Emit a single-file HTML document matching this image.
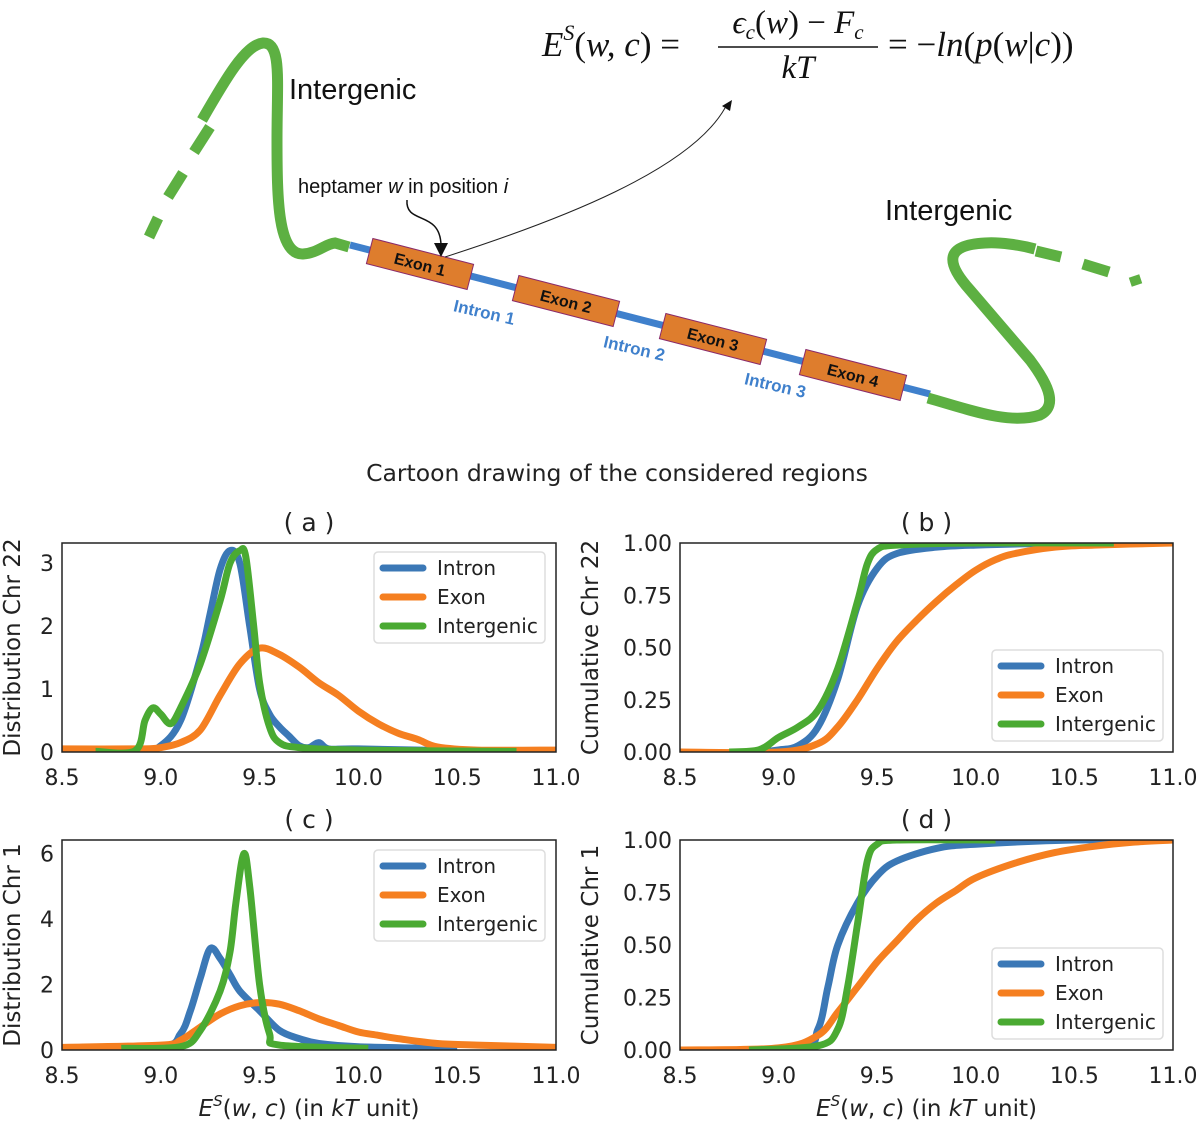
<!DOCTYPE html>
<html><head><meta charset="utf-8"><style>
html,body{margin:0;padding:0;background:#fff}
svg{display:block}
.t{font-family:"DejaVu Sans",sans-serif;fill:#222}
.r{font-family:"Liberation Sans",sans-serif}
.m{font-family:"Liberation Serif",serif;font-style:italic;fill:#111}
</style></head><body>
<svg id="root" width="1200" height="1122" viewBox="0 0 1200 1122" xmlns="http://www.w3.org/2000/svg">
<g>
  <line x1="350" y1="245" x2="930" y2="394" stroke="#3f80cc" stroke-width="7"/>
  <path d="M202,120 C225,80 245,45 263,43 C282,42 277,80 277,140 C277,200 278,255 303,254 C318,253 325,244 335,243 L349,247" fill="none" stroke="#5db042" stroke-width="11"/>
  <g stroke="#5db042" stroke-width="11">
    <line x1="210" y1="127" x2="194" y2="152"/><line x1="183" y1="173" x2="168" y2="197"/><line x1="158" y1="218" x2="149" y2="237"/>
  </g>
  <path d="M928,398 C970,410 1010,425 1040,415 C1060,405 1045,380 1030,360 L970,290 C945,262 945,245 985,243 C1000,242 1020,245 1035,249" fill="none" stroke="#5db042" stroke-width="11"/>
  <g stroke="#5db042" stroke-width="11">
    <line x1="1036" y1="251" x2="1061" y2="257"/><line x1="1083" y1="264" x2="1109" y2="272"/><line x1="1134" y1="276" x2="1137" y2="285"/>
  </g>
  <g transform="translate(420,264) rotate(14.4)"><rect x="-52" y="-13" width="104" height="26" fill="#de7d2d" stroke="#8a2a6a" stroke-width="1"/><text class="r" x="0" y="6" text-anchor="middle" font-size="16" font-weight="bold" fill="#111">Exon 1</text></g>
  <g transform="translate(566,301) rotate(14.4)"><rect x="-52" y="-13" width="104" height="26" fill="#de7d2d" stroke="#8a2a6a" stroke-width="1"/><text class="r" x="0" y="6" text-anchor="middle" font-size="16" font-weight="bold" fill="#111">Exon 2</text></g>
  <g transform="translate(713,339) rotate(14.4)"><rect x="-52" y="-13" width="104" height="26" fill="#de7d2d" stroke="#8a2a6a" stroke-width="1"/><text class="r" x="0" y="6" text-anchor="middle" font-size="16" font-weight="bold" fill="#111">Exon 3</text></g>
  <g transform="translate(853,375) rotate(14.4)"><rect x="-52" y="-13" width="104" height="26" fill="#de7d2d" stroke="#8a2a6a" stroke-width="1"/><text class="r" x="0" y="6" text-anchor="middle" font-size="16" font-weight="bold" fill="#111">Exon 4</text></g>
  <text class="r" transform="translate(483,318) rotate(13)" text-anchor="middle" font-size="17" font-weight="bold" fill="#3f80cc">Intron 1</text>
  <text class="r" transform="translate(633,354) rotate(13)" text-anchor="middle" font-size="17" font-weight="bold" fill="#3f80cc">Intron 2</text>
  <text class="r" transform="translate(774,391) rotate(13)" text-anchor="middle" font-size="17" font-weight="bold" fill="#3f80cc">Intron 3</text>
  <text class="r" x="289" y="99" font-size="29" fill="#111">Intergenic</text>
  <text class="r" x="885" y="220" font-size="29" fill="#111">Intergenic</text>
  <text class="r" x="298" y="193" font-size="20" fill="#111">heptamer <tspan font-style="italic">w</tspan> in position <tspan font-style="italic">i</tspan></text>
  <path d="M407,200 C405,225 440,210 441,245" fill="none" stroke="#111" stroke-width="1.5"/>
  <polygon points="434,243 448,243 441,257" fill="#111"/>
  <path d="M445,257 C560,220 690,170 725,108" fill="none" stroke="#222" stroke-width="1"/>
  <polygon points="732,100 722,106 730,111" fill="#111"/>
  <g>
    <text class="m" x="542" y="56" font-size="35">E<tspan font-size="22" dy="-16">S</tspan><tspan dy="16" font-style="normal">(</tspan>w, c<tspan font-style="normal">) =</tspan></text>
    <text class="m" x="798" y="33" font-size="33" text-anchor="middle">ϵ<tspan font-size="21" dy="6">c</tspan><tspan dy="-6" font-style="normal">(</tspan>w<tspan font-style="normal">) − </tspan>F<tspan font-size="21" dy="6">c</tspan></text>
    <line x1="718" y1="47" x2="878" y2="47" stroke="#111" stroke-width="1.5"/>
    <text class="m" x="798" y="78" font-size="33" text-anchor="middle">kT</text>
    <text class="m" x="888" y="56" font-size="35"><tspan font-style="normal">= −</tspan>ln<tspan font-style="normal">(</tspan>p<tspan font-style="normal">(</tspan>w<tspan font-style="normal">|</tspan>c<tspan font-style="normal">))</tspan></text>
  </g>
  <text class="t" x="617" y="481" text-anchor="middle" font-size="23.5">Cartoon drawing of the considered regions</text>
</g>
<g id="charts"></g>
</svg>
<script>
// Panel (a) density chr22
const aIntronX=[8.5,8.9,9.0,9.1,9.2,9.25,9.3,9.35,9.4,9.45,9.5,9.55,9.6,9.65,9.7,9.75,9.8,9.85,10.0,10.5,11.0];
const aIntronY=[0.02,0.02,0.1,0.5,1.5,2.2,2.9,3.2,3.0,2.0,1.0,0.6,0.4,0.25,0.1,0.07,0.15,0.05,0.05,0.02,0.02];
const aExonX=[8.5,8.9,9.0,9.1,9.2,9.3,9.4,9.5,9.6,9.7,9.8,9.9,10.0,10.1,10.2,10.3,10.4,10.6,11.0];
const aExonY=[0.05,0.05,0.07,0.15,0.35,0.9,1.4,1.65,1.55,1.35,1.1,0.9,0.65,0.45,0.3,0.2,0.08,0.03,0.03];
const aInterX=[8.67,8.87,8.92,8.96,9.0,9.05,9.1,9.2,9.3,9.35,9.4,9.43,9.47,9.5,9.55,9.6,9.7,10.0,10.8];
const aInterY=[0.01,0.02,0.5,0.7,0.6,0.45,0.7,1.4,2.4,3.0,3.2,3.1,2.0,1.1,0.4,0.15,0.07,0.03,0.01];
// Panel (b) cumulative chr22
const bIntronX=[8.9,9.0,9.1,9.2,9.3,9.4,9.5,9.6,9.8,10.0,10.5,11.0];
const bIntronY=[0,0.01,0.03,0.12,0.35,0.7,0.88,0.95,0.98,0.99,1,1];
const bExonX=[8.5,9.0,9.2,9.3,9.4,9.5,9.6,9.7,9.8,9.9,10.0,10.1,10.2,10.4,10.6,11.0];
const bExonY=[0,0,0.04,0.12,0.25,0.4,0.53,0.63,0.72,0.8,0.87,0.92,0.95,0.98,0.99,1];
const bInterX=[8.75,8.9,9.0,9.1,9.2,9.3,9.4,9.45,9.5,9.6,10.0,10.7];
const bInterY=[0,0.01,0.07,0.12,0.2,0.4,0.72,0.9,0.97,0.99,1,1];
// Panel (c) density chr1
const cIntronX=[8.5,9.0,9.1,9.15,9.2,9.25,9.3,9.35,9.4,9.5,9.6,9.7,9.8,10.0,10.4,10.5];
const cIntronY=[0.05,0.1,0.5,1.2,2.2,3.1,2.8,2.3,1.8,1.2,0.6,0.35,0.2,0.1,0.05,0.03];
const cExonX=[8.5,9.0,9.1,9.2,9.3,9.4,9.5,9.6,9.7,9.8,9.9,10.0,10.1,10.2,10.4,10.6,11.0];
const cExonY=[0.08,0.15,0.3,0.7,1.1,1.35,1.45,1.4,1.2,0.95,0.75,0.55,0.45,0.35,0.2,0.15,0.08];
const cInterX=[8.8,9.1,9.2,9.3,9.35,9.38,9.42,9.45,9.5,9.55,9.6,10.05];
const cInterY=[0.05,0.1,0.6,1.8,3.0,4.5,6.0,5.0,2.0,0.5,0.15,0.05];
// Panel (d) cumulative chr1
const dIntronX=[8.5,9.1,9.2,9.25,9.3,9.4,9.5,9.6,9.8,10.0,10.5,11.0];
const dIntronY=[0,0.01,0.1,0.3,0.5,0.7,0.83,0.9,0.96,0.98,1,1];
const dExonX=[8.5,9.0,9.2,9.3,9.4,9.5,9.6,9.7,9.8,9.9,10.0,10.2,10.4,10.6,10.8,11.0];
const dExonY=[0,0.01,0.07,0.18,0.3,0.42,0.52,0.62,0.7,0.76,0.82,0.89,0.94,0.97,0.99,1];
const dInterX=[8.85,9.2,9.3,9.35,9.4,9.45,9.5,9.6,10.1];
const dInterY=[0,0.02,0.1,0.3,0.6,0.9,0.98,1,1];

const xTicks=[8.5,9.0,9.5,10.0,10.5,11.0];
const xTickLabels=["8.5","9.0","9.5","10.0","10.5","11.0"];
const densA=[0,1,2,3], densC=[0,2,4,6];
const cumTicks=[0,0.25,0.5,0.75,1];
const cumLabels=["0.00","0.25","0.50","0.75","1.00"];
const seriesNames=["Intron","Exon","Intergenic"];
const COLORS=["#3b78b6","#f57f20","#4aaa32"];
const NS="http://www.w3.org/2000/svg";
const root=document.getElementById('charts');
function mk(tag,attrs,parent){const e=document.createElementNS(NS,tag);for(const k in attrs)e.setAttribute(k,attrs[k]);parent.appendChild(e);return e;}
function smoothPath(pts){let d="M"+pts[0][0]+","+pts[0][1];for(let i=0;i<pts.length-1;i++){const p0=pts[i-1]||pts[i],p1=pts[i],p2=pts[i+1],p3=pts[i+2]||p2;const c1=[p1[0]+(p2[0]-p0[0])/6,p1[1]+(p2[1]-p0[1])/6],c2=[p2[0]-(p3[0]-p1[0])/6,p2[1]-(p3[1]-p1[1])/6];d+=` C${c1[0].toFixed(1)},${c1[1].toFixed(1)} ${c2[0].toFixed(1)},${c2[1].toFixed(1)} ${p2[0].toFixed(1)},${p2[1].toFixed(1)}`;}return d;}
function panel(o){
  const g=mk('g',{},root);
  
  
  const X=v=>o.L+(v-8.5)/(11-8.5)*(o.R-o.L);
  const Y=v=>o.B-(v-o.y0)/(o.y1-o.y0)*(o.B-o.T);
  const clip=mk('clipPath',{id:'clip'+o.id},g);mk('rect',{x:o.L,y:o.T,width:o.R-o.L,height:o.B-o.T},clip);
  const lines=mk('g',{'clip-path':'url(#clip'+o.id+')'},g);
  o.series.forEach((s,i)=>{const p=mk('path',{d:smoothPath(s[0].map((x,j)=>[X(x),Y(s[1][j])])),fill:'none',stroke:COLORS[i],'stroke-width':7,'stroke-linejoin':'round'},lines);
    
    });
  const fr=mk('rect',{x:o.L,y:o.T,width:o.R-o.L,height:o.B-o.T,fill:'none',stroke:'#222','stroke-width':1.5},g);
  
  
  xTicks.forEach((v,i)=>{const t=mk('text',{x:X(v),y:o.B+33,'text-anchor':'middle','font-size':22,class:'t'},g);t.textContent=xTickLabels[i];
    
    });
  o.yt.forEach((v,i)=>{const t=mk('text',{x:o.L-8,y:Y(v)+8,'text-anchor':'end','font-size':22,class:'t'},g);t.textContent=o.yl[i];
    
    });
  const yt=mk('text',{transform:`translate(${o.ytx},${(o.T+o.B)/2}) rotate(-90)`,'text-anchor':'middle','font-size':23,class:'t'},g);yt.textContent=o.ylabel;
  
  
  const tt=mk('text',{x:(o.L+o.R)/2,y:o.T-12,'text-anchor':'middle','font-size':25,class:'t'},g);tt.textContent=o.title;
  
  
  if(o.xlabel){const xl=mk('text',{x:(o.L+o.R)/2,y:o.B+66,'text-anchor':'middle','font-size':23,class:'t'},g);
    xl.innerHTML='<tspan font-style="italic">E</tspan><tspan font-size="15" dy="-10" font-style="italic">S</tspan><tspan dy="10">(</tspan><tspan font-style="italic">w</tspan>, <tspan font-style="italic">c</tspan>) (in <tspan font-style="italic">kT</tspan> unit)';
    
    }
  const lg=mk('g',{},g);
  
  
  mk('rect',{x:o.lx,y:o.ly,width:171,height:91,rx:4,fill:'#fff',stroke:'#ddd','stroke-width':1.5},lg);
  seriesNames.forEach((n,i)=>{const yy=o.ly+16+i*29;
    const ln=mk('line',{x1:o.lx+9,y1:yy,x2:o.lx+49,y2:yy,stroke:COLORS[i],'stroke-width':7,'stroke-linecap':'round'},lg);
    
    
    const t=mk('text',{x:o.lx+63,y:yy+7,'font-size':20,class:'t'},lg);t.textContent=n;
    
    });
}
panel({id:'a',L:62,R:556,T:543,B:752,y0:0,y1:3.32,yt:densA,yl:["0","1","2","3"],ytx:20,ylabel:"Distribution Chr 22",title:"( a )",lx:374,ly:552,
  series:[[aIntronX,aIntronY],[aExonX,aExonY],[aInterX,aInterY]]});
panel({id:'b',L:680,R:1173,T:543,B:752,y0:0,y1:1,yt:cumTicks,yl:cumLabels,ytx:598,ylabel:"Cumulative Chr 22",title:"( b )",lx:992,ly:650,
  series:[[bIntronX,bIntronY],[bExonX,bExonY],[bInterX,bInterY]]});
panel({id:'c',L:62,R:556,T:840,B:1050,y0:0,y1:6.42,yt:densC,yl:["0","2","4","6"],ytx:20,ylabel:"Distribution Chr 1",title:"( c )",lx:374,ly:850,xlabel:true,
  series:[[cIntronX,cIntronY],[cExonX,cExonY],[cInterX,cInterY]]});
panel({id:'d',L:680,R:1173,T:840,B:1050,y0:0,y1:1,yt:cumTicks,yl:cumLabels,ytx:598,ylabel:"Cumulative Chr 1",title:"( d )",lx:992,ly:948,xlabel:true,
  series:[[dIntronX,dIntronY],[dExonX,dExonY],[dInterX,dInterY]]});
</script>
</body></html>
